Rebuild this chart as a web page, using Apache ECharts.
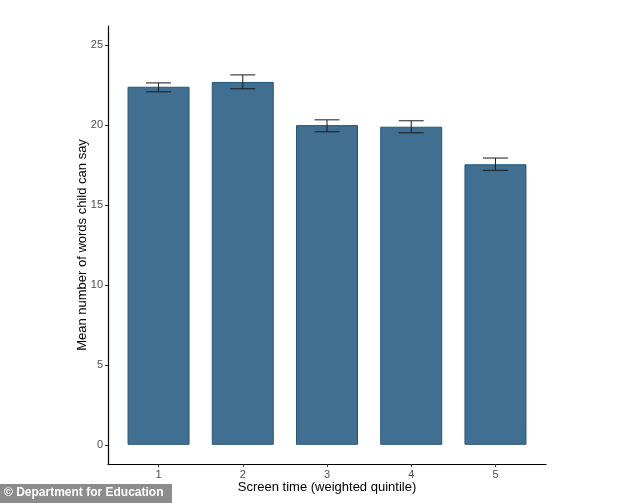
<!DOCTYPE html>
<html><head><meta charset="utf-8">
<script src="https://cdn.jsdelivr.net/npm/echarts@6/dist/echarts.min.js"></script>
<style>html,body{margin:0;padding:0;background:#fff}#c{width:634px;height:503px}</style>
</head><body><div id="c"></div>
<script>
const categories = [1, 2, 3, 4, 5];
const means = [22.4, 22.7, 20.0, 19.9, 17.55];
const lower = [22.08, 22.27, 19.58, 19.52, 17.17];
const upper = [22.64, 23.14, 20.33, 20.27, 17.94];
const yTicks = [0, 5, 10, 15, 20, 25];

const chart = echarts.init(document.getElementById('c'), null, {renderer: 'canvas'});
const lineStyle = {show: true, onZero: false, lineStyle: {color: '#000', width: 1.2}};
const labelStyle = {color: '#4d4d4d', fontSize: 11, fontFamily: 'Arial, Liberation Sans, sans-serif', margin: 5};
chart.setOption({
  animation: false,
  grid: {left: 108, right: 88, top: 26, bottom: 39, containLabel: false},
  xAxis: {
    type: 'value', min: 0.4, max: 5.6,
    axisLine: lineStyle, splitLine: {show: false},
    name: 'Screen time (weighted quintile)', nameLocation: 'middle', nameGap: 17, nameMoveOverlap: false,
    nameTextStyle: {color: '#000', fontSize: 13, fontFamily: 'Arial, Liberation Sans, sans-serif'},
    axisTick: {show: true, length: 3, customValues: categories, lineStyle: {color: '#333'}},
    axisLabel: Object.assign({}, labelStyle, {customValues: categories})
  },
  yAxis: {
    type: 'value', min: -1.2, max: 26.2,
    axisLine: lineStyle, splitLine: {show: false},
    name: 'Mean number of words child can say', nameLocation: 'middle', nameGap: 19, nameMoveOverlap: false,
    nameTextStyle: {color: '#000', fontSize: 13, fontFamily: 'Arial, Liberation Sans, sans-serif'},
    axisTick: {show: true, length: 3, customValues: yTicks, lineStyle: {color: '#333'}},
    axisLabel: Object.assign({}, labelStyle, {customValues: yTicks})
  },
  series: [
    {
      type: 'bar', barWidth: 62,
      data: categories.map((c, i) => [c, means[i]]),
      itemStyle: {color: '#416f91', borderColor: '#24587a', borderWidth: 1}
    },
    {
      type: 'custom',
      data: categories.map((c, i) => [c, lower[i], upper[i]]),
      renderItem: function (params, api) {
        const lo = api.coord([api.value(0), api.value(1)]);
        const hi = api.coord([api.value(0), api.value(2)]);
        const hw = 12.5;
        const st = {stroke: '#1a1a1a', lineWidth: 1};
        return {type: 'group', children: [
          {type: 'line', shape: {x1: lo[0], y1: lo[1], x2: hi[0], y2: hi[1]}, style: st},
          {type: 'line', shape: {x1: lo[0]-hw, y1: lo[1], x2: lo[0]+hw, y2: lo[1]}, style: st},
          {type: 'line', shape: {x1: hi[0]-hw, y1: hi[1], x2: hi[0]+hw, y2: hi[1]}, style: st}
        ]};
      },
      z: 5
    }
  ],
  graphic: [
    {type: 'rect', left: 0, top: 484, shape: {width: 172, height: 19}, style: {fill: '#8c8c8c'}},
    {type: 'text', left: 4, top: 487, style: {text: '© Department for Education', fill: '#fff', font: 'bold 12px Arial, Liberation Sans, sans-serif'}}
  ]
});
</script></body></html>
